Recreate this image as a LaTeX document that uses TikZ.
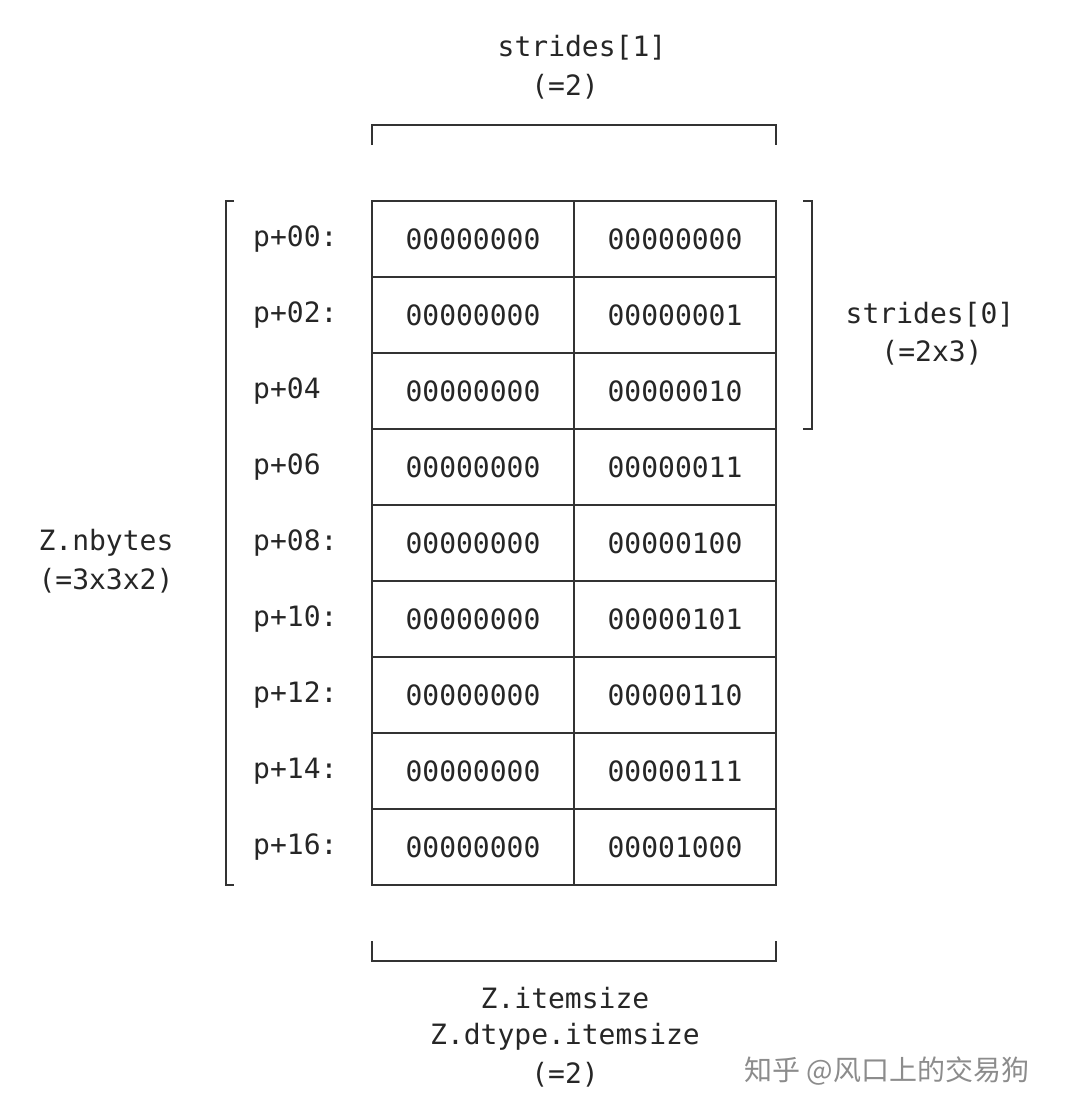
\documentclass[tikz,border=0pt]{standalone}
\usepackage{fontspec}
\setmonofont{DejaVu Sans Mono}
\newfontfamily\cjk{Noto Sans CJK SC}
\begin{document}
\begin{tikzpicture}[x=1pt,y=-1pt,
  txt/.style={font=\fontsize{28}{30}\selectfont\ttfamily, text=black!85, inner sep=0},
  ln/.style={line width=1.2pt, black!80}]
\useasboundingbox (0,0) rectangle (1076,1116);
\foreach \i/\a/\b [count=\r from 0] in {p+00:/00000000/00000000, p+02:/00000000/00000001, p+04/00000000/00000010, p+06/00000000/00000011, p+08:/00000000/00000100, p+10:/00000000/00000101, p+12:/00000000/00000110, p+14:/00000000/00000111, p+16:/00000000/00001000}{
  \pgfmathsetmacro{\yy}{201+76*\r}
  \draw[ln] (372,\yy) rectangle (574,\yy+76) node[midway,txt] (a\r) {\a};
  \draw[ln] (574,\yy) rectangle (776,\yy+76) node[midway,txt] (b\r) {\b};
  \node[txt,anchor=west] (l\r) at (253,\yy+38) {\i};
}
\draw[ln] (372,145) -- (372,125) -- (776,125) -- (776,145);
\draw[ln] (803,201) -- (812,201) -- (812,429) -- (803,429);
\draw[ln] (234,201) -- (226,201) -- (226,885) -- (234,885);
\draw[ln] (372,941) -- (372,961) -- (776,961) -- (776,941);
\node[txt] (s1) at (582,48) {strides[1]};
\node[txt] (s1v) at (565,87) {(=2)};
\node[txt] (s0) at (930,315) {strides[0]};
\node[txt] (s0v) at (932,353) {(=2x3)};
\node[txt] (nb) at (106,543) {Z.nbytes};
\node[txt] (nbv) at (106,581) {(=3x3x2)};
\node[txt] (is) at (565,998) {Z.itemsize};
\node[txt] (dis) at (565,1037) {Z.dtype.itemsize};
\node[txt] (isv) at (565,1075) {(=2)};
\node[font=\fontsize{28}{30}\selectfont\cjk, text=black!45, inner sep=0] (wm) at (887,1071) {知乎 @风口上的交易狗};
\end{tikzpicture}
\end{document}
